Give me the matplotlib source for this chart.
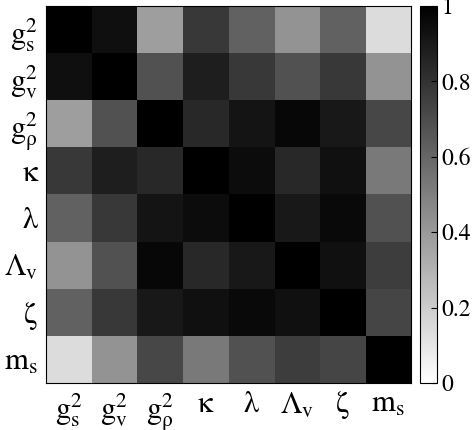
import matplotlib
matplotlib.use("Agg")
import matplotlib.pyplot as plt
import numpy as np

plt.rcParams['mathtext.fontset'] = 'stix'
plt.rcParams['font.family'] = 'STIXGeneral'

labels = [r'$\mathrm{g_s^2}$', r'$\mathrm{g_v^2}$', r'$\mathrm{g_{\rho}^2}$', 'κ',
          'λ', r'Λ$_\mathrm{v}$', 'ζ', r'$\mathrm{m_s}$']
row_gs = [1.00, 0.94, 0.38, 0.78, 0.62, 0.42, 0.62, 0.14]
row_gv = [0.94, 1.00, 0.68, 0.88, 0.78, 0.68, 0.78, 0.42]
row_gr = [0.38, 0.68, 1.00, 0.84, 0.92, 0.97, 0.90, 0.72]
row_ka = [0.78, 0.88, 0.84, 1.00, 0.95, 0.84, 0.93, 0.52]
row_la = [0.62, 0.78, 0.92, 0.95, 1.00, 0.90, 0.96, 0.68]
row_Lv = [0.42, 0.68, 0.97, 0.84, 0.90, 1.00, 0.93, 0.76]
row_ze = [0.62, 0.78, 0.90, 0.93, 0.96, 0.93, 1.00, 0.73]
row_ms = [0.14, 0.42, 0.72, 0.52, 0.68, 0.76, 0.73, 1.00]
data = np.array([row_gs, row_gv, row_gr, row_ka, row_la, row_Lv, row_ze, row_ms])

fig = plt.figure(figsize=(4.74, 4.30), dpi=100)
ax = fig.add_axes([46/474, 47/430, 365/474, 377/430])
im = ax.imshow(data, cmap='gray_r', vmin=0, vmax=1, aspect='auto')
ax.set_xticks(range(8))
ax.set_xticklabels(labels, fontsize=22)
ax.set_yticks(range(8))
ax.set_yticklabels(labels, fontsize=22)
ax.tick_params(length=0, pad=6)
cax = fig.add_axes([420/474, 47/430, 17/474, 377/430])
cb = fig.colorbar(im, cax=cax, ticks=[0, 0.2, 0.4, 0.6, 0.8, 1])
cb.ax.set_yticklabels(['0', '0.2', '0.4', '0.6', '0.8', '1'], fontsize=17)
cb.ax.tick_params(length=4, direction='in', pad=3)
fig.savefig('out.png', dpi=100)
